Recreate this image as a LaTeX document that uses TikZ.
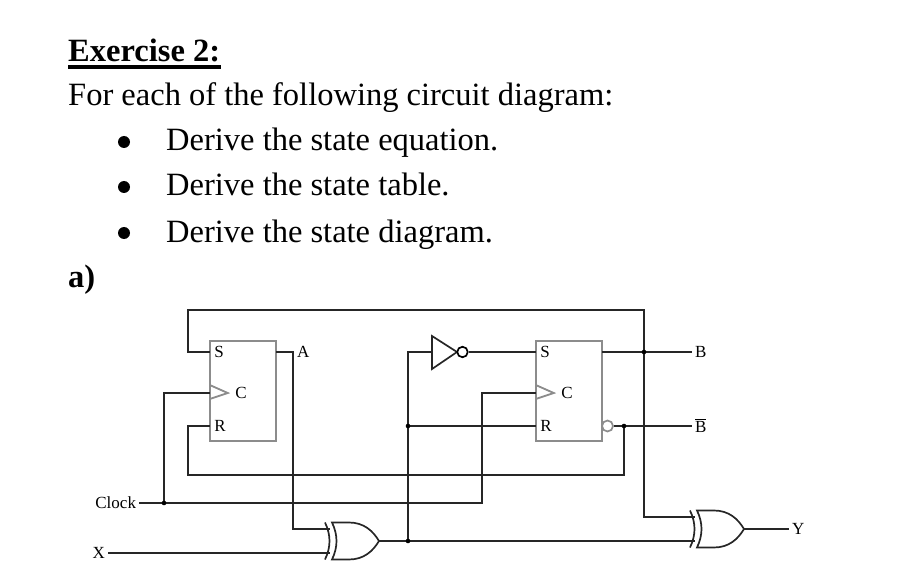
\documentclass[tikz,border=0pt]{standalone}
\usepackage{fontspec}
\setmainfont{Liberation Serif}
\usetikzlibrary{calc,positioning}
\tikzset{
	wire/.style={line width=1.7pt,black!85},
	ff/.style={draw=black!45,line width=1.8pt,fill=white,minimum width=66.5pt,minimum height=100pt,inner sep=0,outer sep=0},
	pinlabel/.style={font=\fontsize{17}{19}\selectfont,inner sep=0,outer sep=3pt,text=black},
	jdot/.style={circle,fill=black,inner sep=0,minimum size=4.6pt},
	bubble/.style={circle,draw,line width=1.7pt,fill=white,inner sep=0,minimum size=10.5pt},
	head/.style={font=\fontsize{32.5}{36}\selectfont,anchor=base west,inner sep=0},
	heavy/.style={head,font=\fontsize{32.5}{36}\selectfont\bfseries},
	xorgate/.pic={
		\draw[wire] (-47,-18.5) -- (-30,-18.5) .. controls (-15,-18.5) and (-6,-10) .. (0,0) .. controls (-6,10) and (-15,18.5) .. (-30,18.5) -- (-47,18.5) .. controls (-41,6) and (-41,-6) .. cycle;
		\draw[wire] (-54,-18.5) .. controls (-48,-6) and (-48,6) .. (-54,18.5);
		\coordinate (-a) at (-49,-12);
		\coordinate (-b) at (-49,12);
		\coordinate (-out) at (0,0);
	},
}
\begin{document}
\begin{tikzpicture}[x=1pt,y=-1pt]
	\useasboundingbox (0,0) rectangle (902,580);
	% text
	\node[heavy] (title) at (68,62) {Exercise 2:};
	\draw[line width=4pt] ($(title.base west)+(0,5)$) -- ($(title.base east)+(1,5)$);
	\node[head] (intro) at (68,106) {For each of the following circuit diagram:};
	\foreach \y/\t/\n in {151/Derive the state equation./one,196/Derive the state table./two,242/Derive the state diagram./three}{
		\node[head] (item\n) at (166,\y) {\t};
		\node[jdot,minimum size=12pt] (bullet\n) at (124,\y-9) {};
	}
	\node[heavy] (parta) at (68,287) {a)};

	% flip flops
	\node[ff] (ffa) at (243,391) {};
	\node[ff,right = 259.5pt of ffa] (ffb) {};
	\foreach \f in {ffa,ffb}{
		\coordinate (\f s) at ($(\f.north west)+(0,11)$);
		\coordinate (\f c) at ($(\f.west)+(0,2)$);
		\coordinate (\f r) at ($(\f.south west)+(0,-15)$);
		\coordinate (\f q) at ($(\f.north east)+(0,11)$);
		\draw[draw=black!45,line width=1.8pt] ($(\f c)+(0,-8)$) -- ($(\f c)+(18,0)$) -- ($(\f c)+(0,6)$);
		\node[pinlabel,right = 1.5pt of \f s] (\f slab) {S};
		\node[pinlabel,right = 22.5pt of \f c] (\f clab) {C};
		\node[pinlabel,right = 1.5pt of \f r] (\f rlab) {R};
	}

	% labels
	\node[pinlabel,anchor=east] (clock) at (139,503) {Clock};
	\node[pinlabel,anchor=east] (x) at (108,553) {X};
	\node[pinlabel,anchor=west] (a) at (294,352) {A};
	\node[pinlabel,anchor=west] (b) at (692,352) {B};
	\node[pinlabel,anchor=base west] (bbar) at (692,432) {$\overline{\hbox{B}}$};
	\node[pinlabel,anchor=west] (y) at (789,529) {Y};

	% gates
	\pic (xora) at (379,541) {xorgate};
	\pic (xory) at (744,529) {xorgate};
	\draw[wire] (432,336) -- (457,352) -- (432,369) -- cycle;
	\coordinate (notin) at (432,352);
	\node[bubble] (notb) at (462.5,352) {};
	\node[bubble,draw=black!45,minimum size=11pt] (qbub) at (607.5,426) {};

	% corners
	\coordinate (topl) at (188,310);
	\coordinate (topr) at (644,310);
	\coordinate (lowl) at (188,475);
	\coordinate (lowr) at (624,475);
	\coordinate (clkb) at (482,503);
	\coordinate (jclk) at (164,503);
	\coordinate (jxr) at (408,426);
	\coordinate (jxo) at (408,541);
	\coordinate (jq) at (624,426);
	\coordinate (jb) at (644,352);

	% wires
	\draw[wire] (ffas) -| (topl) -- (topr) |- (xory-a);
	\draw[wire] (ffar) -| (lowl) -- (lowr) -- (jq);
	\draw[wire] (clock.east) -- (clkb) |- (ffbc);
	\draw[wire] (jclk) |- (ffac);
	\draw[wire] (ffaq) -- (a.west);
	\draw[wire] (a.west) -- ++(-1,0) |- (xora-a);
	\draw[wire] (x.east) -- (xora-b);
	\draw[wire] (xora-out) -- (xory-b);
	\draw[wire] (jxo) -- (jxr) |- (notin);
	\draw[wire] (jxr) -- (ffbr);
	\draw[wire] (notb) -- (ffbs);
	\draw[wire] (ffbq) -- (b.west);
	\draw[wire] (qbub) -- (qbub -| bbar.west);
	\draw[wire] (xory-out) -- (y.west);

	% junctions
	\foreach \j in {jclk,jxr,jxo,jq,jb}{
		\node[jdot] (\j dot) at (\j) {};
	}
\end{tikzpicture}
\end{document}
